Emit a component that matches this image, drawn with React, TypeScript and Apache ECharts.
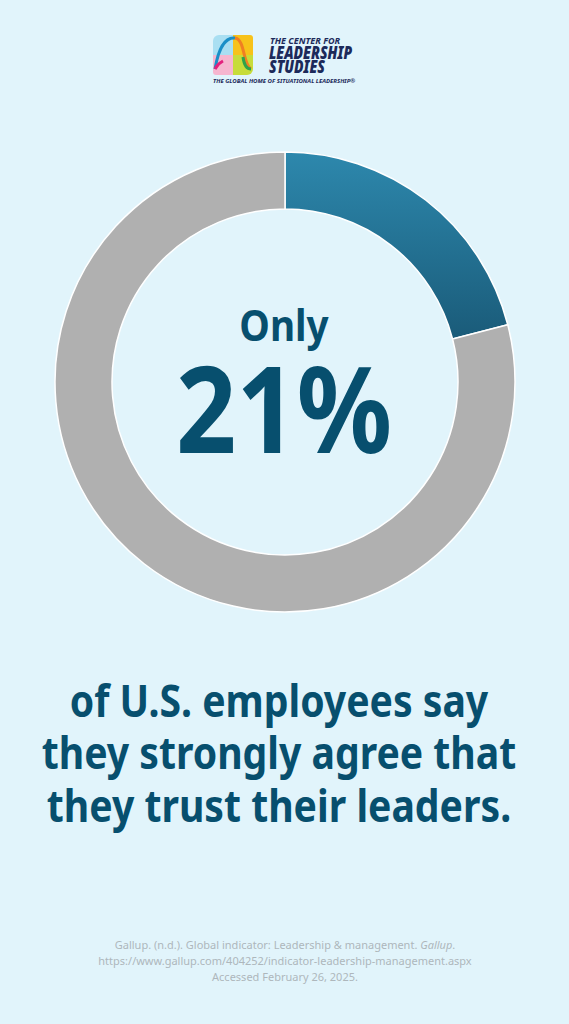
import React, { useEffect, useRef } from "react";
import * as echarts from "echarts";

const sliceNames = ["Strongly agree they trust their leaders", "Other"];
const sliceValues = [21, 79];
const headline = "Only";
const bigStat = "21%";
const bodyLines = [
  "of U.S. employees say",
  "they strongly agree that",
  "they trust their leaders.",
];
const sourceLines = [
  "Gallup. (n.d.). Global indicator: Leadership & management. {i|Gallup}.",
  "https://www.gallup.com/404252/indicator-leadership-management.aspx",
  "Accessed February 26, 2025.",
];

const DARK = "#074f6e";
const FONT = "'Noto Sans', 'Open Sans', sans-serif";

export default function App() {
  const ref = useRef<HTMLDivElement>(null);
  useEffect(() => {
    document.body.style.margin = "0";
    const chart = echarts.init(ref.current!, null, { renderer: "svg" });
    const cx = 285;
    const bodyY = [700, 752, 805];
    const option: any = {
      animation: false,
      backgroundColor: "#e1f4fb",
      series: [
        {
          type: "pie",
          center: [cx, 382],
          radius: [173, 230],
          startAngle: 90,
          clockwise: true,
          label: { show: false },
          labelLine: { show: false },
          silent: true,
          data: sliceNames.map((n, i) => ({
            name: n,
            value: sliceValues[i],
            itemStyle:
              i === 0
                ? {
                    color: new echarts.graphic.LinearGradient(0, 0, 0, 1, [
                      { offset: 0, color: "#2d88ad" },
                      { offset: 1, color: "#1a5b79" },
                    ]),
                    borderColor: "#ffffff",
                    borderWidth: 1.5,
                  }
                : { color: "#b0b0b0", borderColor: "#ffffff", borderWidth: 1.5 },
          })),
        },
      ],
      graphic: [
        // Logo icon
        {
          type: "group",
          x: 213,
          y: 35,
          children: [
            { type: "rect", shape: { x: 0, y: 0, width: 20, height: 20, r: [6, 0, 0, 0] }, style: { fill: "#a9dff2" } },
            { type: "rect", shape: { x: 20, y: 0, width: 20, height: 20, r: [0, 3, 0, 0] }, style: { fill: "#f7c21a" } },
            { type: "rect", shape: { x: 0, y: 20, width: 20, height: 20, r: [0, 0, 0, 3] }, style: { fill: "#f6b6cf" } },
            { type: "rect", shape: { x: 20, y: 20, width: 20, height: 20, r: [0, 0, 6, 0] }, style: { fill: "#c7dc3a" } },
            { type: "bezierCurve", shape: { x1: 2, y1: 34, x2: 22, y2: 3, cpx1: 6, cpy1: 10, cpx2: 14, cpy2: 2 }, style: { stroke: "#1a8fc7", lineWidth: 3, fill: "none" } },
            { type: "bezierCurve", shape: { x1: 2, y1: 34, x2: 10, y2: 26, cpx1: 4, cpy1: 30, cpx2: 6, cpy2: 28 }, style: { stroke: "#e3217d", lineWidth: 3, fill: "none" } },
            { type: "bezierCurve", shape: { x1: 22, y1: 3, x2: 38, y2: 34, cpx1: 32, cpy1: 4, cpx2: 30, cpy2: 30 }, style: { stroke: "#f07f22", lineWidth: 3, fill: "none" } },
            { type: "bezierCurve", shape: { x1: 30, y1: 22, x2: 38, y2: 34, cpx1: 31, cpy1: 30, cpx2: 34, cpy2: 34 }, style: { stroke: "#2fa24a", lineWidth: 3, fill: "none" } },
          ],
        },
        { type: "text", x: 270, y: 36, style: { text: "THE CENTER FOR", font: "italic bold 9px " + FONT, fill: "#1c2a5a" } },
        { type: "text", x: 269, y: 44, style: { text: "LEADERSHIP", font: "italic 900 17px " + FONT, fill: "#1c2a5a" }, scaleX: 0.82 },
        { type: "text", x: 269, y: 58, style: { text: "STUDIES", font: "italic 900 17px " + FONT, fill: "#1c2a5a" }, scaleX: 0.82 },
        { type: "text", x: 213, y: 78, style: { text: "THE GLOBAL HOME OF SITUATIONAL LEADERSHIP®", font: "italic bold 6px " + FONT, fill: "#1c2a5a" } },
        // Center texts
        { type: "text", x: 284, y: 324, scaleX: 0.9, style: { text: headline, font: "bold 43px " + FONT, fill: DARK, align: "center", verticalAlign: "middle" } },
        { type: "text", x: 284, y: 406, scaleX: 0.88, style: { text: bigStat, font: "bold 120px " + FONT, fill: DARK, align: "center", verticalAlign: "middle" } },
        ...bodyLines.map((t, i) => ({
          type: "text",
          x: 279,
          y: bodyY[i],
          scaleX: 0.89,
          style: { text: t, font: "bold 44px " + FONT, fill: DARK, align: "center", verticalAlign: "middle" },
        })),
        ...sourceLines.map((t, i) => ({
          type: "text",
          x: cx,
          y: 944 + i * 16,
          style: {
            text: t,
            font: "11px " + FONT,
            fill: "#aeb7bc",
            align: "center",
            verticalAlign: "middle",
            rich: { i: { font: "italic 11px " + FONT, fill: "#aeb7bc" } },
          },
        })),
      ],
    };
    chart.setOption(option);
    return () => chart.dispose();
  }, []);
  return <div ref={ref} style={{ width: 569, height: 1024 }} />;
}
